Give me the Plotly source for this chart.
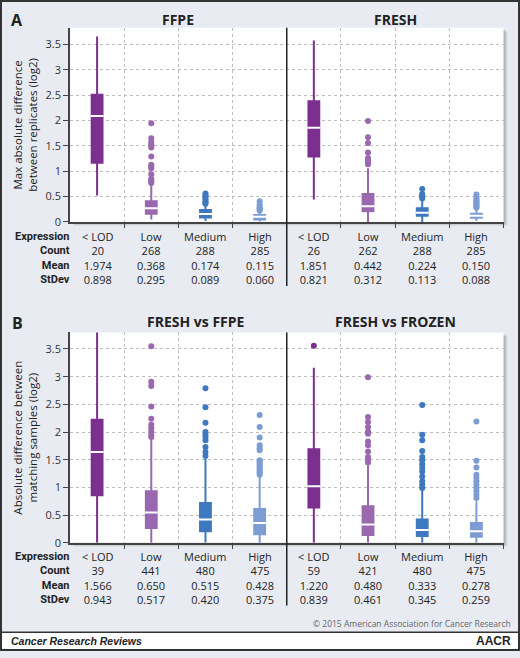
import plotly.graph_objects as go

W, H = 520, 658
FONT = "Open Sans"
TXT = "#222222"

CATEGORIES = ["< LOD", "Low", "Medium", "High"]
COLORS = ["#7B2F8E", "#9A68AF", "#3E78BF", "#7E9CD4"]
ROW_LABELS = ["Expression", "Count", "Mean", "StDev"]
Y_TICKS = [0, 0.5, 1, 1.5, 2, 2.5, 3, 3.5]

# ---------------- Panel A : FFPE ----------------
A_FFPE_LOWER = [0.52, 0.05, 0.02, 0.01]
A_FFPE_Q1 = [1.17, 0.16, 0.085, 0.05]
A_FFPE_MEDIAN = [2.09, 0.27, 0.155, 0.10]
A_FFPE_Q3 = [2.51, 0.41, 0.235, 0.135]
A_FFPE_UPPER = [3.66, 0.73, 0.33, 0.21]
A_FFPE_OUTLIERS = [
    [],
    [0.77, 0.79, 0.82, 0.85, 0.94, 1.06, 1.10, 1.13, 1.29, 1.47, 1.51, 1.54, 1.58, 1.65, 1.95],
    [0.36, 0.38, 0.41, 0.44, 0.47, 0.50, 0.53, 0.56],
    [0.22, 0.24, 0.26, 0.28, 0.30, 0.35, 0.41],
]
A_FFPE_COUNT = [20, 268, 288, 285]
A_FFPE_MEAN = [1.974, 0.368, 0.174, 0.115]
A_FFPE_STDEV = [0.898, 0.295, 0.089, 0.060]

# ---------------- Panel A : FRESH ----------------
A_FRESH_LOWER = [0.44, 0.0, 0.0, 0.02]
A_FRESH_Q1 = [1.29, 0.21, 0.12, 0.08]
A_FRESH_MEDIAN = [1.86, 0.31, 0.18, 0.12]
A_FRESH_Q3 = [2.38, 0.55, 0.27, 0.16]
A_FRESH_UPPER = [3.58, 1.06, 0.42, 0.26]
A_FRESH_OUTLIERS = [
    [],
    [1.14, 1.18, 1.21, 1.26, 1.37, 1.56, 1.67, 1.99],
    [0.46, 0.49, 0.52, 0.55, 0.65],
    [0.28, 0.30, 0.32, 0.34, 0.36, 0.38, 0.40, 0.42, 0.44, 0.47, 0.54],
]
A_FRESH_COUNT = [26, 262, 288, 285]
A_FRESH_MEAN = [1.851, 0.442, 0.224, 0.150]
A_FRESH_STDEV = [0.821, 0.312, 0.113, 0.088]

# ---------------- Panel B : FRESH vs FFPE ----------------
B_FFPE_LOWER = [0.0, 0.0, 0.0, 0.0]
B_FFPE_Q1 = [0.86, 0.27, 0.21, 0.155]
B_FFPE_MEDIAN = [1.64, 0.55, 0.42, 0.36]
B_FFPE_Q3 = [2.22, 0.93, 0.72, 0.61]
B_FFPE_UPPER = [3.95, 1.88, 1.52, 1.20]
B_FFPE_OUTLIERS = [
    [],
    [1.91, 1.95, 2.01, 2.07, 2.13, 2.24, 2.46, 2.83, 2.91, 3.55],
    [1.57, 1.64, 1.73, 1.85, 1.91, 1.95, 2.00, 2.17, 2.45, 2.79],
    [1.23, 1.26, 1.29, 1.32, 1.35, 1.38, 1.41, 1.44, 1.47, 1.49, 1.67, 1.71, 1.76, 1.90, 2.09, 2.31],
]
B_FFPE_COUNT = [39, 441, 480, 475]
B_FFPE_MEAN = [1.566, 0.650, 0.515, 0.428]
B_FFPE_STDEV = [0.943, 0.517, 0.420, 0.375]

# ---------------- Panel B : FRESH vs FROZEN ----------------
B_FROZEN_LOWER = [0.0, 0.0, 0.0, 0.0]
B_FROZEN_Q1 = [0.64, 0.14, 0.125, 0.11]
B_FROZEN_MEDIAN = [1.02, 0.33, 0.23, 0.21]
B_FROZEN_Q3 = [1.69, 0.66, 0.42, 0.36]
B_FROZEN_UPPER = [3.16, 1.40, 0.96, 0.75]
B_FROZEN_OUTLIERS = [
    [3.56],
    [1.45, 1.49, 1.55, 1.65, 1.76, 1.83, 1.97, 2.01, 2.09, 2.18, 2.27, 2.99],
    [0.99, 1.05, 1.11, 1.20, 1.29, 1.35, 1.42, 1.49, 1.55, 1.66, 1.85, 1.95, 2.49],
    [0.81, 0.87, 0.93, 0.99, 1.05, 1.11, 1.17, 1.23, 1.36, 1.48, 2.19],
]
B_FROZEN_COUNT = [59, 421, 480, 475]
B_FROZEN_MEAN = [1.220, 0.480, 0.333, 0.278]
B_FROZEN_STDEV = [0.839, 0.461, 0.345, 0.259]


# ---------------- geometry helpers (pixels -> paper) ----------------
def px(x):
    return x / W


def py(y):
    return 1 - y / H


PLOT_X0, PLOT_X1 = 70, 503.5
A_TOP, A_BOT = 28, 224.3
B_TOP, B_BOT = 336, 548.7
BOX_W = 0.2

fig = go.Figure()


def add_group(offset, lower, q1, med, q3, upper, outliers, xa, ya):
    for i in range(4):
        xi = offset + i
        fig.add_trace(go.Box(
            x=[xi], q1=[q1[i]], median=[med[i]], q3=[q3[i]],
            lowerfence=[lower[i]], upperfence=[upper[i]],
            width=BOX_W, whiskerwidth=0, boxpoints=False,
            fillcolor=COLORS[i], line=dict(color=COLORS[i], width=2),
            xaxis=xa, yaxis=ya, showlegend=False, hoverinfo="skip"))
        half = BOX_W / 2 + 0.02
        fig.add_trace(go.Scatter(
            x=[xi - half, xi + half], y=[med[i], med[i]], mode="lines",
            line=dict(color="white", width=2), xaxis=xa, yaxis=ya,
            showlegend=False, hoverinfo="skip"))
        if outliers[i]:
            fig.add_trace(go.Scatter(
                x=[xi] * len(outliers[i]), y=outliers[i], mode="markers",
                marker=dict(color=COLORS[i], size=6, line=dict(width=0)),
                xaxis=xa, yaxis=ya, showlegend=False, hoverinfo="skip",
                cliponaxis=True))


add_group(0, A_FFPE_LOWER, A_FFPE_Q1, A_FFPE_MEDIAN, A_FFPE_Q3, A_FFPE_UPPER, A_FFPE_OUTLIERS, "x", "y")
add_group(4, A_FRESH_LOWER, A_FRESH_Q1, A_FRESH_MEDIAN, A_FRESH_Q3, A_FRESH_UPPER, A_FRESH_OUTLIERS, "x", "y")
add_group(0, B_FFPE_LOWER, B_FFPE_Q1, B_FFPE_MEDIAN, B_FFPE_Q3, B_FFPE_UPPER, B_FFPE_OUTLIERS, "x2", "y2")
add_group(4, B_FROZEN_LOWER, B_FROZEN_Q1, B_FROZEN_MEDIAN, B_FROZEN_Q3, B_FROZEN_UPPER, B_FROZEN_OUTLIERS, "x2", "y2")

boundaries = [i + 0.5 for i in range(8)]
xaxis_common = dict(
    range=[-0.5, 7.5], domain=[px(PLOT_X0), px(PLOT_X1)],
    tickvals=boundaries, showticklabels=False, ticks="outside", ticklen=4,
    tickcolor="#444", tickwidth=1.2,
    showgrid=True, gridcolor="#BDBDBD", griddash="dot", gridwidth=1,
    showline=True, linecolor="#444", linewidth=1.5, zeroline=False, fixedrange=True)
yaxis_common = dict(
    tickvals=Y_TICKS, ticktext=[f"{v:g}" for v in Y_TICKS], ticks="outside", ticklen=5,
    tickcolor="#444", tickwidth=1.2, tickfont=dict(family=FONT, size=11, color="#333"),
    showgrid=True, gridcolor="#BDBDBD", griddash="dot", gridwidth=1,
    showline=True, linecolor="#444", linewidth=1.5, zeroline=False, fixedrange=True)

A_RANGE = [0, (A_BOT - A_TOP) / 51.2]
B_RANGE = [0, (B_BOT - B_TOP) / 56.0]

fig.update_layout(
    width=W, height=H, margin=dict(l=0, r=0, t=0, b=0),
    paper_bgcolor="#E8ECF2", plot_bgcolor="rgba(0,0,0,0)",
    font=dict(family=FONT, color=TXT),
    xaxis=dict(**xaxis_common, anchor="y"),
    yaxis=dict(**yaxis_common, range=A_RANGE, domain=[py(A_BOT), py(A_TOP)], anchor="x"),
    xaxis2=dict(**xaxis_common, anchor="y2"),
    yaxis2=dict(**yaxis_common, range=B_RANGE, domain=[py(B_BOT), py(B_TOP)], anchor="x2"),
)

shapes = []
# shadows and white plot backgrounds
for top, bot in [(A_TOP, A_BOT), (B_TOP, B_BOT)]:
    for d, op in [(4, 0.06), (3, 0.08), (2, 0.10)]:
        shapes.append(dict(type="rect", xref="paper", yref="paper", layer="below",
                           x0=px(PLOT_X0 + d), x1=px(PLOT_X1 + d), y0=py(bot + d), y1=py(top + d),
                           fillcolor=f"rgba(0,0,0,{op})", line=dict(width=0)))
    shapes.append(dict(type="rect", xref="paper", yref="paper", layer="below",
                       x0=px(PLOT_X0), x1=px(PLOT_X1), y0=py(bot), y1=py(top),
                       fillcolor="white", line=dict(width=0)))
# black dividers between the two halves
shapes.append(dict(type="line", xref="x", yref="paper", x0=3.5, x1=3.5,
                   y0=py(289), y1=py(A_TOP), line=dict(color="#222", width=1.5)))
shapes.append(dict(type="line", xref="x2", yref="paper", x0=3.5, x1=3.5,
                   y0=py(612), y1=py(B_TOP), line=dict(color="#222", width=1.5)))
# footer band and outer frame
shapes.append(dict(type="rect", xref="paper", yref="paper", x0=px(1), x1=px(519),
                   y0=py(657), y1=py(639), fillcolor="white", line=dict(color="#333", width=1.5)))
shapes.append(dict(type="rect", xref="paper", yref="paper", x0=px(1), x1=px(519),
                   y0=py(657), y1=py(1), fillcolor="rgba(0,0,0,0)", line=dict(color="#333", width=2)))
fig.update_layout(shapes=shapes)

ann = []


def text(x, y, s, size=12, bold=False, xanchor="center", xref="paper", color=TXT,
         family=FONT, angle=0, align="center"):
    ann.append(dict(x=x, y=y, xref=xref, yref="paper", text=f"<b>{s}</b>" if bold else s,
                    showarrow=False, xanchor=xanchor, yanchor="middle", textangle=angle,
                    align=align, font=dict(family=family, size=size, color=color)))


# panel letters & titles
text(px(16.5), py(20), "A", size=16, bold=True)
text(px(17), py(326), "B", size=16, bold=True)
text(px(178), py(20), "FFPE", size=14, bold=True)
text(px(395), py(20), "FRESH", size=14, bold=True)
text(px(196), py(325), "FRESH vs FFPE", size=14, bold=True)
text(px(395), py(325), "FRESH vs FROZEN", size=14, bold=True)

# y-axis titles
text(px(25), py((A_TOP + A_BOT) / 2), "Max absolute difference<br>between replicates (log2)",
     size=11.5, angle=-90)
text(px(25), py((B_TOP + B_BOT) / 2), "Absolute difference between<br>matching samples (log2)",
     size=11.5, angle=-90)


def table(center_y, xref, left_counts, left_means, left_sd, right_counts, right_means, right_sd):
    text(px(72), py(center_y), "<br>".join(f"<b>{r}</b>" for r in ROW_LABELS), size=11,
         xanchor="right", align="right", family="Roboto")
    for off, counts, means, sds in [(0, left_counts, left_means, left_sd),
                                    (4, right_counts, right_means, right_sd)]:
        for i in range(4):
            col = [CATEGORIES[i], str(counts[i]), f"{means[i]:.3f}", f"{sds[i]:.3f}"]
            text(off + i, py(center_y), "<br>".join(col), size=11, xref=xref)


table((240.3 + 282) / 2, "x", A_FFPE_COUNT, A_FFPE_MEAN, A_FFPE_STDEV,
      A_FRESH_COUNT, A_FRESH_MEAN, A_FRESH_STDEV)
table((564 + 605) / 2, "x2", B_FFPE_COUNT, B_FFPE_MEAN, B_FFPE_STDEV,
      B_FROZEN_COUNT, B_FROZEN_MEAN, B_FROZEN_STDEV)

# copyright & footer
text(px(513), py(630), "© 2015 American Association for Cancer Research", size=8.5,
     xanchor="right", color="#666")
text(px(9), py(648), "<i>Cancer Research Reviews</i>", size=10.5, bold=True, xanchor="left",
     family="Liberation Sans")
text(px(513), py(648), "AACR", size=12, bold=True, xanchor="right", family="Liberation Sans")

fig.update_layout(annotations=ann)
fig.write_html("out.html", config={"displayModeBar": False},
               post_script="document.body.style.margin='0';document.body.style.overflow='hidden';")
